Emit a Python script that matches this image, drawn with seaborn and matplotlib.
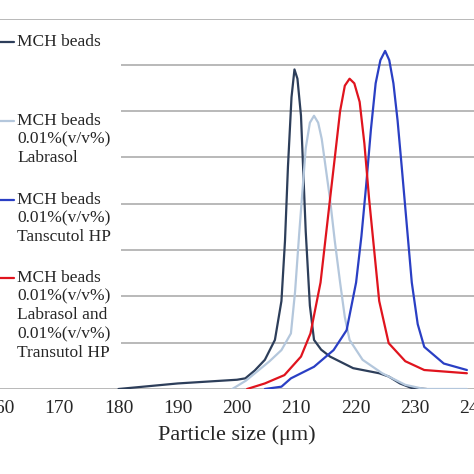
import numpy as np
import matplotlib
matplotlib.use("Agg")
import matplotlib.pyplot as plt
import seaborn as sns
from matplotlib.lines import Line2D
from matplotlib.patches import Rectangle

# values (size in um, relative volume)
dark_x = [180, 190, 200, 201.4, 203, 204.7, 206.4, 207.5, 208.1, 208.6, 209.2, 209.7, 210.2, 210.8, 211.6, 212.3, 213, 214.2, 215.7, 219.6, 224, 225.6, 227.5, 229.5, 232]
dark_y = [0, 0.12, 0.2, 0.23, 0.4, 0.63, 1.06, 1.9, 3.2, 4.8, 6.3, 6.9, 6.7, 5.9, 3.4, 1.8, 1.06, 0.85, 0.7, 0.45, 0.34, 0.27, 0.12, 0.02, 0]
light_x = [199.2, 201.5, 203.6, 205.5, 207.5, 209.1, 209.8, 210.5, 211.6, 212.3, 213, 213.7, 214.3, 215.7, 216.5, 217.4, 218.2, 219, 221.2, 224.5, 228.4, 231.6, 238.8]
light_y = [0, 0.18, 0.4, 0.6, 0.84, 1.2, 2.1, 3.36, 5.2, 5.75, 5.9, 5.75, 5.4, 4.1, 3.2, 2.3, 1.55, 1.06, 0.63, 0.34, 0.09, 0, 0]
red_x = [201.7, 204.7, 208, 210.8, 212.4, 214.1, 215.7, 216.6, 217.4, 218.2, 219, 219.8, 220.7, 221.5, 222.3, 224, 225.6, 228.4, 231.6, 238.8]
red_y = [0, 0.12, 0.3, 0.7, 1.2, 2.3, 4.1, 5.1, 6.0, 6.55, 6.7, 6.6, 6.2, 5.3, 4.1, 1.9, 0.99, 0.6, 0.41, 0.34]
blue_x = [204.7, 207.5, 209.1, 213, 216.3, 218.5, 220.1, 221, 221.8, 222.6, 223.4, 224.2, 225, 225.7, 226.4, 227.1, 227.8, 229.5, 230.5, 231.6, 234.9, 238.8]
blue_y = [0, 0.05, 0.23, 0.48, 0.84, 1.27, 2.3, 3.3, 4.4, 5.6, 6.6, 7.1, 7.3, 7.1, 6.6, 5.8, 4.8, 2.3, 1.4, 0.91, 0.55, 0.41]

labels = ["MCH beads",
          "MCH beads\n0.01%(v/v%)\nLabrasol",
          "MCH beads\n0.01%(v/v%)\nTanscutol HP",
          "MCH beads\n0.01%(v/v%)\nLabrasol and\n0.01%(v/v%)\nTransutol HP"]
colors = ["#2d3e5a", "#b4c7dc", "#2a3fc4", "#e0141e"]
xticks = list(range(160, 250, 10))

sns.set_theme(style="white")
plt.rcParams["font.family"] = ["Liberation Serif", "DejaVu Serif"]

fig = plt.figure(figsize=(4.74, 4.74), dpi=100)
ax = fig.add_axes([0, 1 - 389 / 474, 1, (389 - 18.5) / 474])

for xs, ys, c in zip([dark_x, light_x, blue_x, red_x], [dark_y, light_y, blue_y, red_y],
                     [colors[0], colors[1], colors[2], colors[3]]):
    sns.lineplot(x=xs, y=ys, ax=ax, color=c, lw=1.6, zorder=3, sort=False)

ax.set_xlim(160.8, 238.8)
ax.set_ylim(0, 8)
ax.set_yticks(range(0, 9))
ax.yaxis.grid(True, color="#a6a6a6", lw=1.1)
ax.set_yticklabels([])
ax.set_xticks(xticks)
ax.set_xticklabels([str(t) for t in xticks], fontsize=14)
ax.tick_params(axis="x", length=0, pad=8)
ax.tick_params(axis="y", length=0)
for s in ax.spines.values():
    s.set_visible(False)
ax.set_xlabel("Particle size (μm)", fontsize=16, labelpad=6)
ax.set_axisbelow(True)

# legend panel covering gridlines on the left
ax.add_patch(Rectangle((0, 1 - 378 / 474), 121 / 474, (378 - 25) / 474, transform=fig.transFigure,
                       facecolor="white", edgecolor="none", zorder=2))
starts = [42, 121, 200, 278]
for lab, c, y0 in zip(labels, colors, starts):
    yf = 1 - y0 / 474
    fig.add_artist(Line2D([0, 14 / 474], [yf, yf], color=c, lw=1.6, transform=fig.transFigure))
    fig.text(17 / 474, yf + 8 / 474, lab, fontsize=12.5, va="top", ha="left", linespacing=1.22,
             transform=fig.transFigure)

fig.savefig("out.png", dpi=100)
